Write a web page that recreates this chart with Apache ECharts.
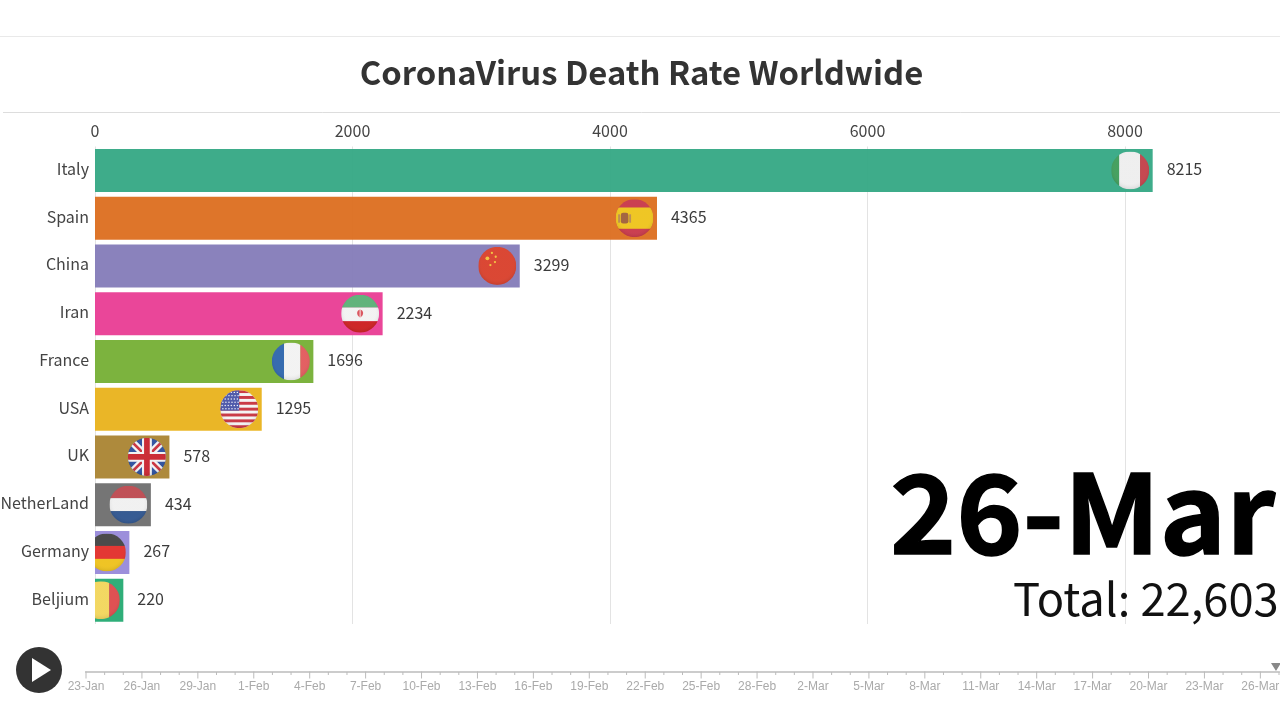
<!DOCTYPE html>
<html>
<head>
<meta charset="utf-8">
<title>CoronaVirus Death Rate Worldwide</title>
<script src="https://cdn.jsdelivr.net/npm/echarts@6/dist/echarts.min.js"></script>
<style>
  html, body { margin: 0; padding: 0; background: #fff; overflow: hidden; }
  #chart { width: 1280px; height: 720px; }
</style>
</head>
<body>
<div id="chart"></div>
<script>
// Deaths per country on the current day, largest first.
const countries = ['Italy', 'Spain', 'China', 'Iran', 'France', 'USA', 'UK', 'NetherLand', 'Germany', 'Beljium'];
const deaths = [8215, 4365, 3299, 2234, 1696, 1295, 578, 434, 267, 220];
const barColors = ['#36a985', '#dd6f21', '#857db9', '#e93e95', '#77b036', '#e9b31e', '#ab8534', '#6f6f6f', '#988ada', '#26ab74'];
const flagKeys = ['it', 'es', 'cn', 'ir', 'fr', 'us', 'gb', 'nl', 'de', 'be'];
const axisTicks = [0, 2000, 4000, 6000, 8000, 10000];
const currentDay = '26-Mar';
const totalLabel = 'Total: 22,603';
const chartTitle = 'CoronaVirus Death Rate Worldwide';
const timelineDays = [
  '23-Jan', '24-Jan', '25-Jan', '26-Jan', '27-Jan', '28-Jan', '29-Jan', '30-Jan', '31-Jan',
  '1-Feb', '2-Feb', '3-Feb', '4-Feb', '5-Feb', '6-Feb', '7-Feb', '8-Feb', '9-Feb', '10-Feb',
  '11-Feb', '12-Feb', '13-Feb', '14-Feb', '15-Feb', '16-Feb', '17-Feb', '18-Feb', '19-Feb',
  '20-Feb', '21-Feb', '22-Feb', '23-Feb', '24-Feb', '25-Feb', '26-Feb', '27-Feb', '28-Feb', '29-Feb',
  '1-Mar', '2-Mar', '3-Mar', '4-Mar', '5-Mar', '6-Mar', '7-Mar', '8-Mar', '9-Mar', '10-Mar',
  '11-Mar', '12-Mar', '13-Mar', '14-Mar', '15-Mar', '16-Mar', '17-Mar', '18-Mar', '19-Mar',
  '20-Mar', '21-Mar', '22-Mar', '23-Mar', '24-Mar', '25-Mar', '26-Mar', '27-Mar'
];

const FONT = '"Noto Sans CJK SC", "Noto Sans", sans-serif';
const FLAG_SIZE = 38;
const FLAG_INSET = 22.5;

// Flag stripes as [colour, share of the badge]; the badges read like shaded spheres,
// so the middle stripe of a vertical tricolour is wider than its neighbours.
function bands(stripes, vertical) {
  let pos = 0;
  return stripes.map(function (s) {
    const size = s[1];
    const rect = vertical
      ? '<rect x="' + pos + '" y="0" width="' + (size + 0.5) + '" height="100" fill="' + s[0] + '"/>'
      : '<rect x="0" y="' + pos + '" width="100" height="' + (size + 0.5) + '" fill="' + s[0] + '"/>';
    pos += size;
    return rect;
  }).join('');
}

function usaFlag() {
  let out = '<rect width="100" height="100" fill="#f4f4f4"/>';
  for (let i = 0; i < 13; i += 2) {
    out += '<rect x="0" y="' + i * 7.7 + '" width="100" height="7.7" fill="#c8333f"/>';
  }
  out += '<rect width="50" height="54" fill="#4a55a8"/>';
  for (let r = 0; r < 6; r++) {
    for (let c = 0; c < 6; c++) {
      out += '<circle cx="' + (5 + c * 8 + (r % 2) * 2) + '" cy="' + (6 + r * 8.6) + '" r="1.8" fill="#fff"/>';
    }
  }
  return out;
}

const flagArt = {
  it: bands([['#3f9d5a', 21], ['#eeeeee', 55], ['#c4414a', 24]], true),
  es: '<rect width="100" height="100" fill="#c9384a"/><rect y="22" width="100" height="56" fill="#eec41c"/>' +
      '<rect x="14" y="36" width="20" height="28" rx="6" fill="#a0603a"/><rect x="7" y="40" width="5" height="22" fill="#b98a50"/><rect x="36" y="40" width="5" height="22" fill="#b98a50"/>',
  cn: '<rect width="100" height="100" fill="#d9402c"/>' +
      '<circle cx="24" cy="30" r="5" fill="#f2c23c"/><circle cx="36" cy="16" r="3" fill="#f2c23c"/><circle cx="46" cy="26" r="3" fill="#f2c23c"/>' +
      '<circle cx="44" cy="40" r="3" fill="#f2c23c"/><circle cx="32" cy="48" r="3" fill="#f2c23c"/>',
  ir: bands([['#5bb077', 34], ['#f2f2f2', 36], ['#cc1f1f', 30]], false) +
      '<path d="M50 39c-10 2-11 16 0 21c11-5 10-19 0-21z" fill="#d9505a"/><rect x="48.6" y="38" width="2.8" height="23" fill="#f6dede"/>',
  fr: bands([['#2f66ad', 32], ['#f2f2f2', 43], ['#e25a5c', 25]], true),
  us: usaFlag(),
  gb: '<rect width="100" height="100" fill="#2c4f9e"/>' +
      '<path d="M0 0L100 100M100 0L0 100" stroke="#f2f2f2" stroke-width="19"/>' +
      '<path d="M0 0L100 100M100 0L0 100" stroke="#c9303c" stroke-width="7"/>' +
      '<path d="M50 0V100M0 50H100" stroke="#f2f2f2" stroke-width="26"/>' +
      '<path d="M50 0V100M0 50H100" stroke="#c9252f" stroke-width="15"/>',
  nl: bands([['#bd4a50', 33], ['#f0f0f0', 34], ['#2f558f', 33]], false),
  de: bands([['#444444', 33], ['#e2302c', 34], ['#eec21c', 33]], false),
  be: bands([['#333333', 33], ['#f2d65c', 39], ['#de4a4c', 28]], true)
};

function flagImage(key) {
  const svg = '<svg xmlns="http://www.w3.org/2000/svg" width="76" height="76" viewBox="0 0 100 100">' +
    '<defs><clipPath id="c"><circle cx="50" cy="50" r="50"/></clipPath>' +
    '<radialGradient id="g" cx="50%" cy="45%" r="58%">' +
    '<stop offset="0.7" stop-color="#fff" stop-opacity="0.04"/><stop offset="1" stop-color="#000" stop-opacity="0.12"/></radialGradient></defs>' +
    '<g clip-path="url(#c)">' + flagArt[key] + '<rect width="100" height="100" fill="url(#g)"/></g></svg>';
  return 'data:image/svg+xml;charset=utf-8,' + encodeURIComponent(svg);
}

const chart = echarts.init(document.getElementById('chart'), null, { renderer: 'canvas' });

chart.setOption({
  animation: false,
  backgroundColor: '#ffffff',
  title: {
    text: chartTitle,
    left: 636.5,
    top: 68,
    textAlign: 'center',
    textVerticalAlign: 'middle',
    textStyle: { fontFamily: FONT, fontSize: 32.8, fontWeight: 'bold', color: '#333333' }
  },
  grid: { left: 95, top: 146.5, width: 1287.5, height: 477.5, outerBoundsMode: 'none' },
  xAxis: {
    type: 'value',
    position: 'top',
    min: 0,
    max: axisTicks[axisTicks.length - 1],
    interval: 2000,
    axisLine: { show: false },
    axisTick: { show: false },
    axisLabel: {
      fontFamily: FONT, fontSize: 16, color: '#444444', margin: 8,
      formatter: function (v) { return String(v); }
    },
    splitLine: { lineStyle: { color: '#e3e3e3', width: 1 } }
  },
  yAxis: {
    type: 'category',
    inverse: true,
    data: countries,
    axisLine: { show: false },
    axisTick: { show: false },
    axisLabel: {
      interval: 0, fontFamily: FONT, fontSize: 16, color: '#444444', margin: 6,
      // A thin line box hung from the row centre lifts the names slightly.
      verticalAlign: 'bottom', lineHeight: 3
    }
  },
  series: [
    {
      type: 'bar',
      barWidth: 43,
      silent: true,
      data: deaths.map(function (v, i) {
        return { value: v, itemStyle: { color: barColors[i], opacity: 0.96 } };
      }),
      label: {
        show: true,
        position: 'right',
        distance: 14,
        offset: [0, -1],
        fontFamily: FONT,
        fontSize: 16,
        color: '#333333'
      }
    },
    {
      // Round flag at the tip of each bar, cut off by the plot edge on the short bars.
      type: 'custom',
      silent: true,
      clip: true,
      z: 3,
      encode: { x: 0, y: 1 },
      data: deaths.map(function (v, i) { return [v, i]; }),
      renderItem: function (params, api) {
        const tip = api.coord([api.value(0), api.value(1)]);
        return {
          type: 'image',
          style: {
            image: flagImage(flagKeys[params.dataIndex]),
            x: tip[0] - FLAG_INSET - FLAG_SIZE / 2,
            y: tip[1] - FLAG_SIZE / 2,
            width: FLAG_SIZE,
            height: FLAG_SIZE
          }
        };
      }
    }
  ],
  timeline: {
    axisType: 'category',
    data: timelineDays.map(function (d, i) {
      const major = i % 3 === 0;
      return {
        value: d,
        symbol: 'rect',
        symbolSize: major ? [1, 7] : [1, 3],
        symbolOffset: major ? [0, 3] : [0, 1.5]
      };
    }),
    currentIndex: timelineDays.length - 1,
    autoPlay: false,
    left: 81,
    right: -4,
    top: 658,
    height: 40,
    padding: 5,
    lineStyle: { color: '#cccccc', width: 2 },
    itemStyle: { color: '#bbbbbb', borderWidth: 0 },
    checkpointStyle: {
      // The lone points on the path's far edges nudge the triangle up and to the left of its day.
      symbol: 'path://M0 0L10 0L5 8Z M5 18L5.01 18Z M16 18L16.01 18Z',
      symbolSize: [16, 18],
      color: '#888888',
      borderWidth: 0,
      animation: false
    },
    progress: {
      lineStyle: { color: '#cccccc' },
      itemStyle: { color: '#bbbbbb', borderWidth: 0 },
      label: { color: '#aaaaaa' }
    },
    label: {
      position: 9,
      interval: 2,
      fontFamily: '"Liberation Sans", Arial, sans-serif',
      fontSize: 11,
      color: '#aaaaaa'
    },
    controlStyle: { show: false },
    emphasis: { label: { color: '#aaaaaa' } }
  },
  graphic: [
    { type: 'line', silent: true, shape: { x1: 0, y1: 36.5, x2: 1280, y2: 36.5 }, style: { stroke: '#e9e9e9', lineWidth: 1 } },
    { type: 'line', silent: true, shape: { x1: 3, y1: 112.5, x2: 1280, y2: 112.5 }, style: { stroke: '#dddddd', lineWidth: 1 } },
    {
      type: 'text', silent: true, z: 20, x: 890, y: 513, scaleX: 1.03, scaleY: 1,
      style: { text: currentDay, fontFamily: FONT, fontSize: 109, fontWeight: 'bold', fill: '#000000', stroke: '#000000', lineWidth: 1.5, textVerticalAlign: 'middle' }
    },
    {
      type: 'text', silent: true, z: 20, x: 1013, y: 599,
      style: { text: totalLabel, fontFamily: FONT, fontSize: 45.3, fill: '#111111', textVerticalAlign: 'middle' }
    },
    // Play button beside the timeline
    { type: 'circle', silent: true, shape: { cx: 39, cy: 670, r: 23 }, style: { fill: '#333333' } },
    { type: 'polygon', silent: true, shape: { points: [[32, 658], [32, 682], [51, 670]] }, style: { fill: '#ffffff' } }
  ]
});
</script>
</body>
</html>
